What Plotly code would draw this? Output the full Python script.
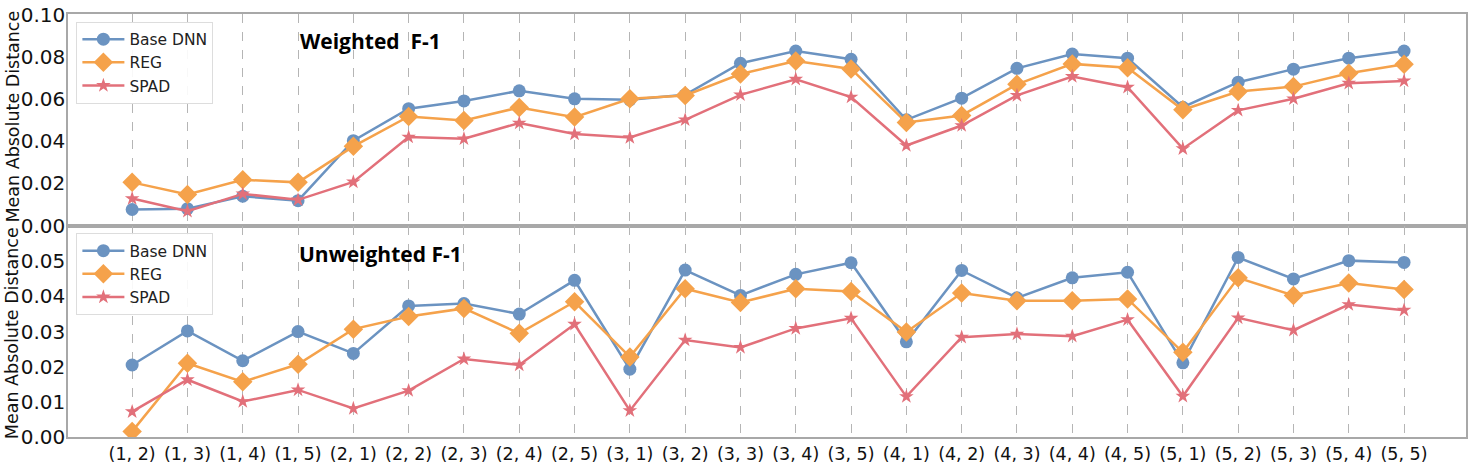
import plotly.graph_objects as go
from plotly.subplots import make_subplots

categories = ["(1, 2)", "(1, 3)", "(1, 4)", "(1, 5)", "(2, 1)", "(2, 2)", "(2, 3)", "(2, 4)",
              "(2, 5)", "(3, 1)", "(3, 2)", "(3, 3)", "(3, 4)", "(3, 5)", "(4, 1)", "(4, 2)",
              "(4, 3)", "(4, 4)", "(4, 5)", "(5, 1)", "(5, 2)", "(5, 3)", "(5, 4)", "(5, 5)"]

weighted_base = [0.0076, 0.0080, 0.0139, 0.0118, 0.0403, 0.0555, 0.0592, 0.0640, 0.0602, 0.0597,
                 0.0621, 0.0771, 0.0829, 0.0790, 0.0502, 0.0605, 0.0747, 0.0815, 0.0795, 0.0562,
                 0.0681, 0.0743, 0.0795, 0.0829]
weighted_reg = [0.0205, 0.0147, 0.0217, 0.0205, 0.0376, 0.0518, 0.0499, 0.0561, 0.0515, 0.0602,
                0.0618, 0.0720, 0.0782, 0.0744, 0.0490, 0.0523, 0.0671, 0.0768, 0.0750, 0.0550,
                0.0637, 0.0660, 0.0723, 0.0766]
weighted_spad = [0.0128, 0.0068, 0.0150, 0.0122, 0.0207, 0.0420, 0.0412, 0.0487, 0.0435, 0.0418,
                 0.0502, 0.0621, 0.0695, 0.0610, 0.0380, 0.0475, 0.0618, 0.0708, 0.0657, 0.0365,
                 0.0547, 0.0602, 0.0676, 0.0687]

unweighted_base = [0.0205, 0.0302, 0.0217, 0.0300, 0.0238, 0.0373, 0.0380, 0.0350, 0.0446, 0.0193,
                   0.0475, 0.0403, 0.0463, 0.0496, 0.0271, 0.0474, 0.0396, 0.0453, 0.0469, 0.0211,
                   0.0511, 0.0450, 0.0502, 0.0497]
unweighted_reg = [0.0016, 0.0210, 0.0157, 0.0207, 0.0307, 0.0343, 0.0366, 0.0295, 0.0385, 0.0228,
                  0.0422, 0.0383, 0.0422, 0.0414, 0.0299, 0.0410, 0.0388, 0.0388, 0.0393, 0.0241,
                  0.0453, 0.0403, 0.0438, 0.0420]
unweighted_spad = [0.0072, 0.0163, 0.0101, 0.0134, 0.0081, 0.0132, 0.0222, 0.0205, 0.0321, 0.0075,
                   0.0276, 0.0255, 0.0309, 0.0338, 0.0115, 0.0284, 0.0293, 0.0287, 0.0334, 0.0116,
                   0.0339, 0.0304, 0.0377, 0.0361]

series_names = ["Base DNN", "REG", "SPAD"]
colors = ["#6b93c1", "#f5a24b", "#e2707a"]
symbols = ["circle", "diamond", "star"]
msizes = [13, 15, 11]

fig = make_subplots(rows=2, cols=1, shared_xaxes=True, vertical_spacing=0)

x_idx = list(range(len(categories)))
panels = [(1, [weighted_base, weighted_reg, weighted_spad], "legend"),
          (2, [unweighted_base, unweighted_reg, unweighted_spad], "legend2")]
for row, data, leg in panels:
    for name, vals, c, s, ms in zip(series_names, data, colors, symbols, msizes):
        fig.add_trace(go.Scatter(
            x=x_idx, y=vals, name=name, mode="lines+markers",
            line=dict(color=c, width=2.5),
            marker=dict(symbol=s, size=ms, color=c),
            legend=leg, showlegend=True), row=row, col=1)

axis_font = dict(family="DejaVu Sans", size=20, color="#111")
title_font = dict(family="DejaVu Sans", size=17.5, color="#111")
common_x = dict(range=[-1.16, 24.12], tickmode="array", tickvals=x_idx, ticktext=categories,
                showgrid=True, gridcolor="#b5b5b5", griddash="dash", gridwidth=1,
                showline=True, linecolor="#a8a8a8", linewidth=1.5, mirror=True, automargin=False,
                zeroline=False, ticks="", tickfont=dict(family="DejaVu Sans", size=17.5, color="#111"))
fig.update_xaxes(**common_x, row=1, col=1, showticklabels=False)
fig.update_xaxes(**common_x, row=2, col=1, showticklabels=True)

common_y = dict(tickformat=".2f", showgrid=False, zeroline=False, showline=True,
                linecolor="#a8a8a8", linewidth=1.5, mirror=True, ticks="", automargin=False,
                tickfont=axis_font, ticklabelstandoff=-3)
fig.update_yaxes(range=[0, 0.1005], tickvals=[0, 0.02, 0.04, 0.06, 0.08, 0.10], **common_y,
                 row=1, col=1)
fig.update_yaxes(range=[0, 0.0602], tickvals=[0, 0.01, 0.02, 0.03, 0.04, 0.05], **common_y,
                 row=2, col=1)

legend_style = dict(font=dict(family="DejaVu Sans", size=15.5, color="#222"),
                    bgcolor="rgba(255,255,255,0.9)", bordercolor="#dddddd", borderwidth=1,
                    xanchor="left", yanchor="top", itemsizing="trace", tracegroupgap=0,
                    itemwidth=42)

fig.update_layout(
    width=1474, height=467,
    margin=dict(l=68, r=8, t=14, b=30),
    paper_bgcolor="white", plot_bgcolor="white",
    legend=dict(x=0.006, y=0.982, **legend_style),
    legend2=dict(x=0.006, y=0.482, **legend_style),
    annotations=[
        dict(text="Mean Absolute Distance", xref="paper", yref="paper", x=-0.0395, y=0.757,
             xanchor="center", yanchor="middle", textangle=-90, showarrow=False, font=title_font),
        dict(text="Mean Absolute Distance", xref="paper", yref="paper", x=-0.0395, y=0.245,
             xanchor="center", yanchor="middle", textangle=-90, showarrow=False, font=title_font),
        dict(text="<b>Weighted  F-1</b>", xref="paper", yref="paper", x=0.1645, y=0.935,
             xanchor="left", yanchor="middle", showarrow=False,
             font=dict(family="Open Sans", size=21, color="#000")),
        dict(text="<b>Unweighted F-1</b>", xref="paper", yref="paper", x=0.1638, y=0.432,
             xanchor="left", yanchor="middle", showarrow=False,
             font=dict(family="Open Sans", size=21, color="#000")),
    ],
)
fig.write_html("out.html", config={"displayModeBar": False},
               post_script="document.body.style.margin='0';")
